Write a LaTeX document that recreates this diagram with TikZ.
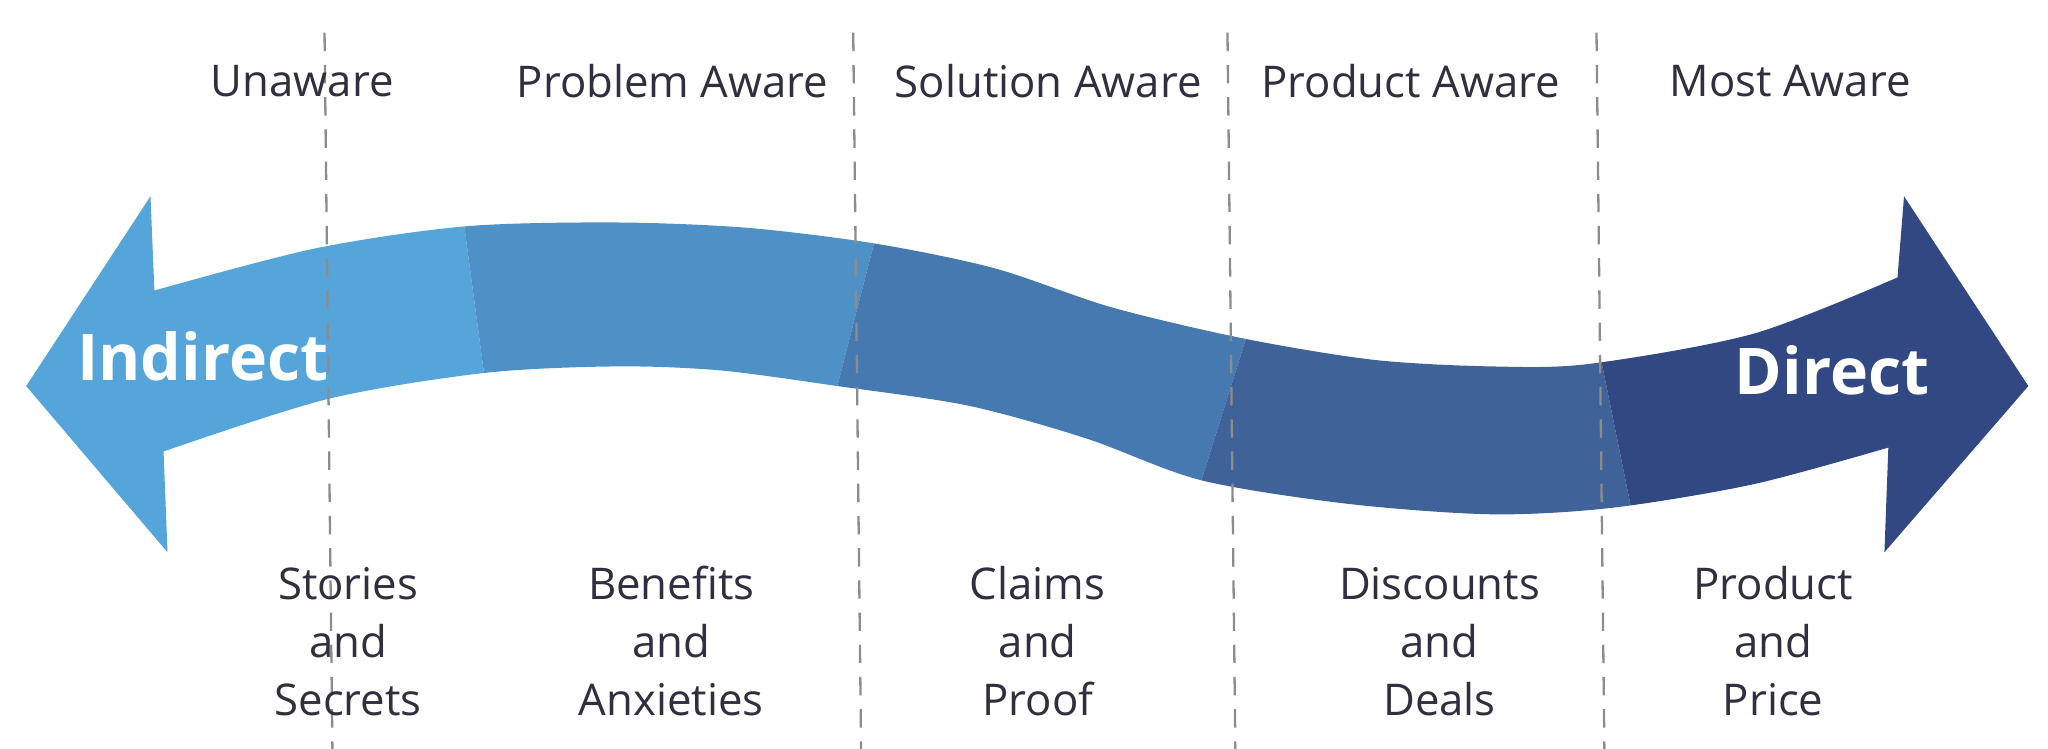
\documentclass[tikz,border=0pt]{standalone}
\usepackage{fontspec}
\setmainfont{Open Sans}
\usepackage{tikz}
\definecolor{ink}{HTML}{2F2F3F}
\definecolor{segA}{HTML}{55A5DB}
\definecolor{segB}{HTML}{4E91C6}
\definecolor{segC}{HTML}{4679AF}
\definecolor{segD}{HTML}{3F6399}
\definecolor{segE}{HTML}{324883}
\begin{document}
\begin{tikzpicture}[x=0.01cm,y=-0.01cm,
  stage label/.style={text=ink,font=\fontsize{9.5}{11.5}\selectfont,anchor=center},
  copy label/.style={text=ink,font=\fontsize{9.5}{12.6}\selectfont,align=center,anchor=center},
  end label/.style={text=white,font=\fontsize{14}{16}\selectfont\bfseries,anchor=center},
  divider/.style={draw=gray!90,line width=0.5pt,dash pattern=on 4pt off 3pt},
]
\useasboundingbox (0,0) rectangle (1565,572);
\begin{scope}
  \clip (20,295) -- (115,150) -- (118,222)
    -- plot[smooth] coordinates {(118,222) (240,190) (355,173) (470,170) (570,174) (668,186) (760,205) (850,235) (952,259) (1050,275) (1140,280) (1215,278) (1340,255) (1450,212)}
    -- (1455,150) -- (1550,295) -- (1440,422) -- (1443,342)
    -- plot[smooth] coordinates {(1443,342) (1340,370) (1232,388) (1140,393) (1030,385) (918,367) (830,335) (740,310) (640,295) (550,283) (470,280) (370,285) (250,305) (125,345)}
    -- (128,422) -- cycle;
  \fill[segA] (0,100) -- (345,100) -- (392,450) -- (0,450) -- cycle;
  \fill[segB] (345,100) -- (690,100) -- (600,450) -- (392,450) -- cycle;
  \fill[segC] (690,100) -- (1002,100) -- (892,450) -- (600,450) -- cycle;
  \fill[segD] (1002,100) -- (1188,100) -- (1259,450) -- (892,450) -- cycle;
  \fill[segE] (1188,100) -- (1565,100) -- (1565,450) -- (1259,450) -- cycle;
\end{scope}
% dividers between stages
\foreach \x in {248,652,938,1220}
  \draw[divider] (\x,25) -- (\x+7,662);
% awareness stages
\node[stage label] (unaware) at (231,62) {Unaware};
\node[stage label] (problem) at (514,62) {Problem Aware};
\node[stage label] (solution) at (801,62) {Solution Aware};
\node[stage label] (product) at (1078,62) {Product Aware};
\node[stage label] (most) at (1368,62) {Most Aware};
% copy focus
\node[copy label] (stories) at (266,490) {Stories\\and\\Secrets};
\node[copy label] (benefits) at (513,490) {Benefits\\and\\Anxieties};
\node[copy label] (claims) at (793,490) {Claims\\and\\Proof};
\node[copy label] (discounts) at (1100,490) {Discounts\\and\\Deals};
\node[copy label] (price) at (1355,490) {Product\\and\\Price};
\node[end label] (indirect) at (155,272) {Indirect};
\node[end label] (direct) at (1400,283) {Direct};
\end{tikzpicture}
\end{document}
